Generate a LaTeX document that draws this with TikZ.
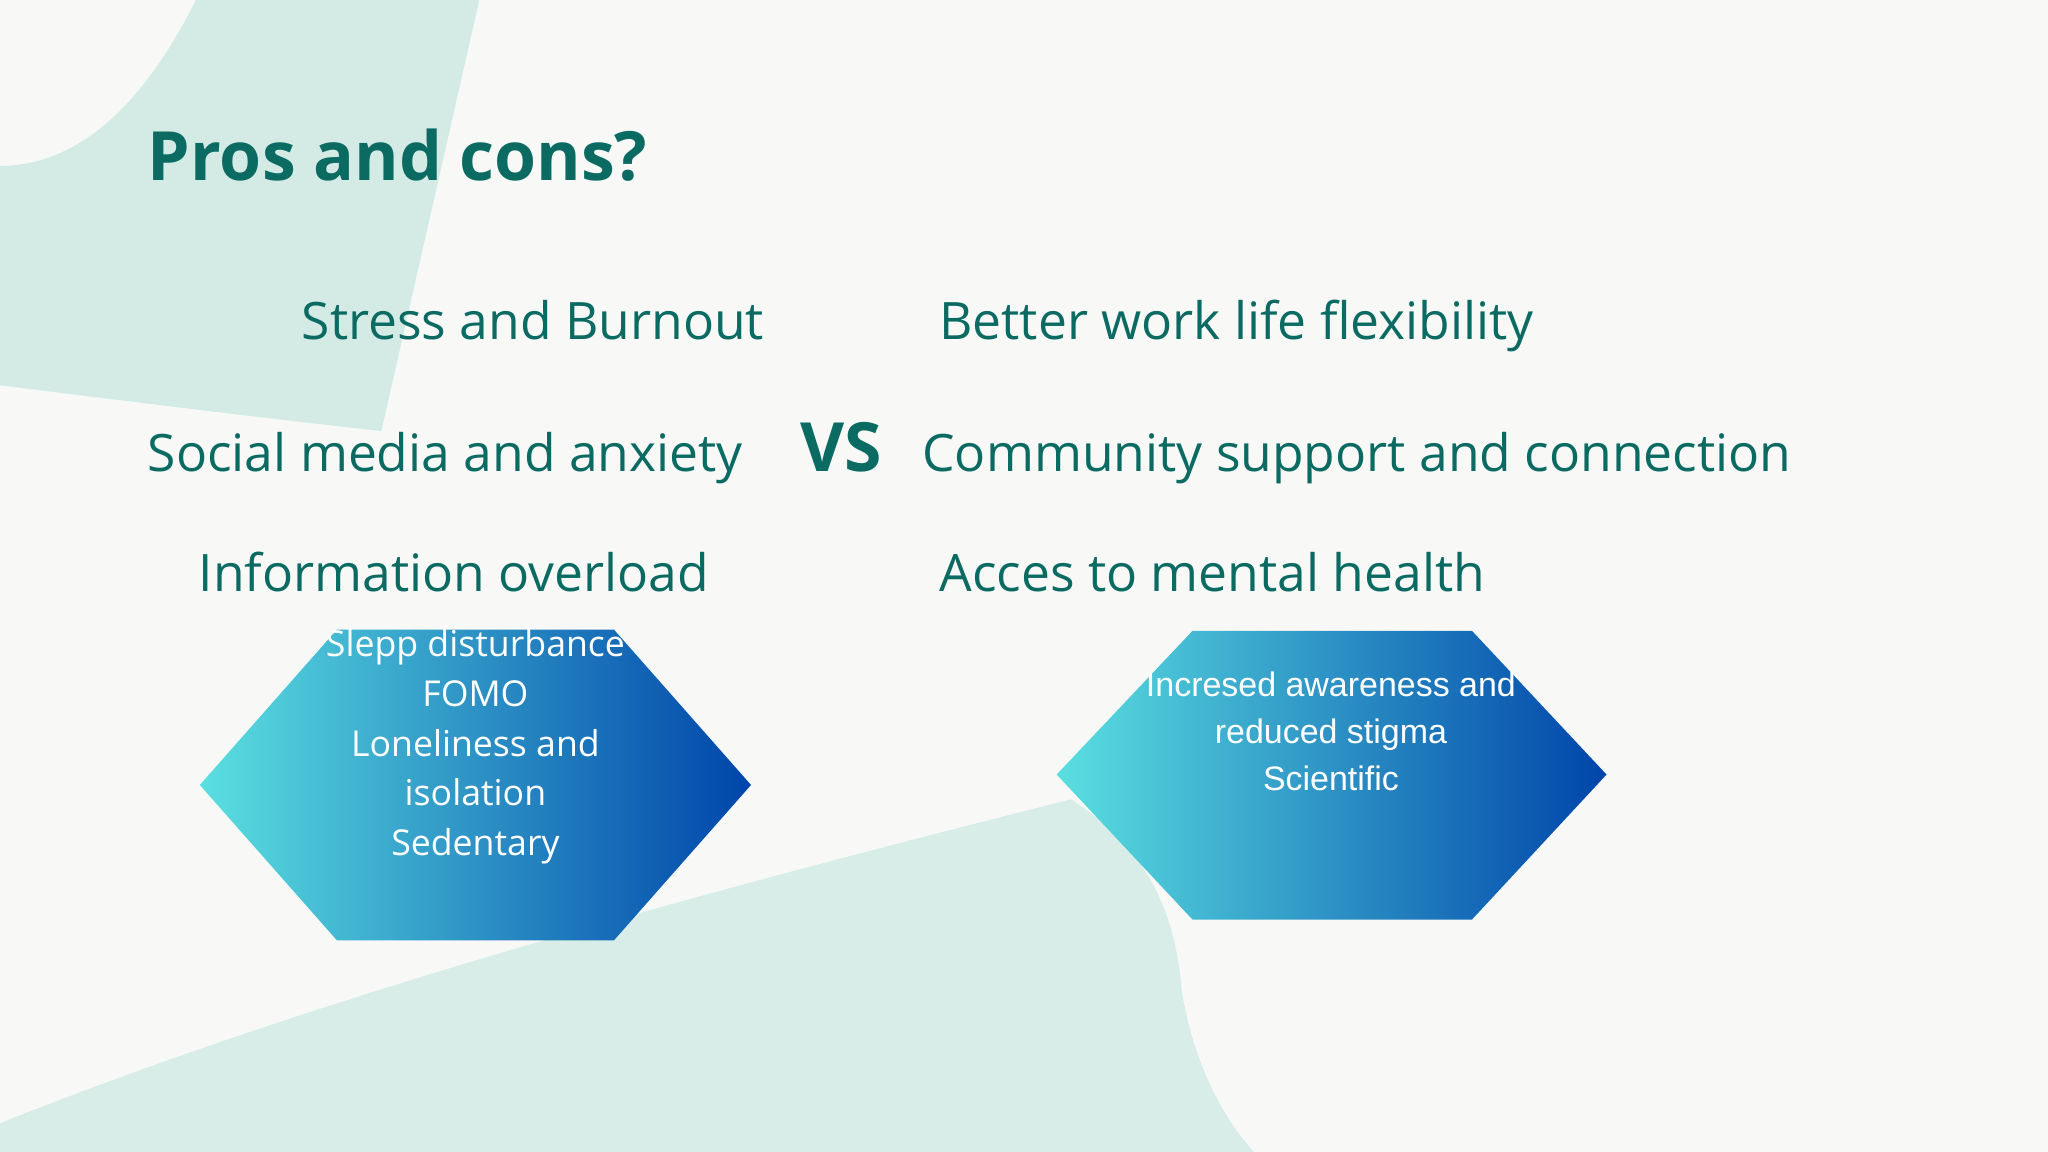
\documentclass[tikz,border=0pt]{standalone}
\usepackage{fontspec}
\setmainfont{Open Sans}
\newfontfamily\arialf{Liberation Sans}
\definecolor{teal1}{HTML}{0B6B63}
\definecolor{bgc}{HTML}{F8F9F7}
\definecolor{deco}{HTML}{A9DCD1}
\definecolor{hexl}{HTML}{5ADFE0}
\definecolor{hexr}{HTML}{0045AA}
\tikzset{
  pt/.style={text=teal1,font=\fontsize{39.5}{46}\selectfont,anchor=base west,inner sep=0},
  hex/.style={left color=hexl,right color=hexr,draw=none},
  htxt/.style={text=white,align=center,inner sep=0}
}
\begin{document}
\begin{tikzpicture}[x=1pt,y=-1pt]
\fill[bgc] (0,0) rectangle (1568,882);
\useasboundingbox (0,0) rectangle (1568,882);
% decorations
\fill[deco,opacity=0.45] (150,0) -- (367,0) -- (292,330) .. controls (200,320) and (80,305) .. (0,295) -- (0,127) .. controls (60,127) and (110,80) .. (150,0) -- cycle;
\fill[deco,opacity=0.4] (0,882) -- (0,860) .. controls (250,760) and (550,680) .. (820,612) .. controls (880,650) and (900,700) .. (905,760) .. controls (915,820) and (940,860) .. (960,882) -- cycle;
% title
\node[pt,font=\fontsize{52}{60}\selectfont\bfseries] (title) at (113,138) {Pros and cons?};
\node[pt,anchor=base] (c1) at (408,260) {Stress and Burnout};
\node[pt] (c2) at (113,361) {Social media and anxiety};
\node[pt] (c3) at (152,453) {Information overload};
\node[text=teal1,font=\fontsize{52}{60}\selectfont\bfseries,inner sep=0,anchor=base] (vs) at (644,361) {VS};
\node[pt] (p1) at (719,260) {Better work life flexibility};
\node[pt] (p2) at (706,361) {Community support and connection};
\node[pt] (p3) at (719,453) {Acces to mental health};
% hexagons
\shade[hex] (153,601) -- (258,482) -- (470,482) -- (575,601) -- (470,720) -- (258,720) -- cycle;
\shade[hex] (809,593) -- (913,483) -- (1127,483) -- (1230,593) -- (1127,704) -- (913,704) -- cycle;
\node[htxt,font=\fontsize{27.3}{38}\selectfont,anchor=north] (h1) at (364,482) {Slepp disturbance\\FOMO\\Loneliness and\\isolation\\Sedentary};
\node[htxt,font=\arialf\fontsize{26}{36}\selectfont,anchor=north] (h2) at (1019,514) {Incresed awareness and\\reduced stigma\\Scientific};
\end{tikzpicture}
\end{document}
